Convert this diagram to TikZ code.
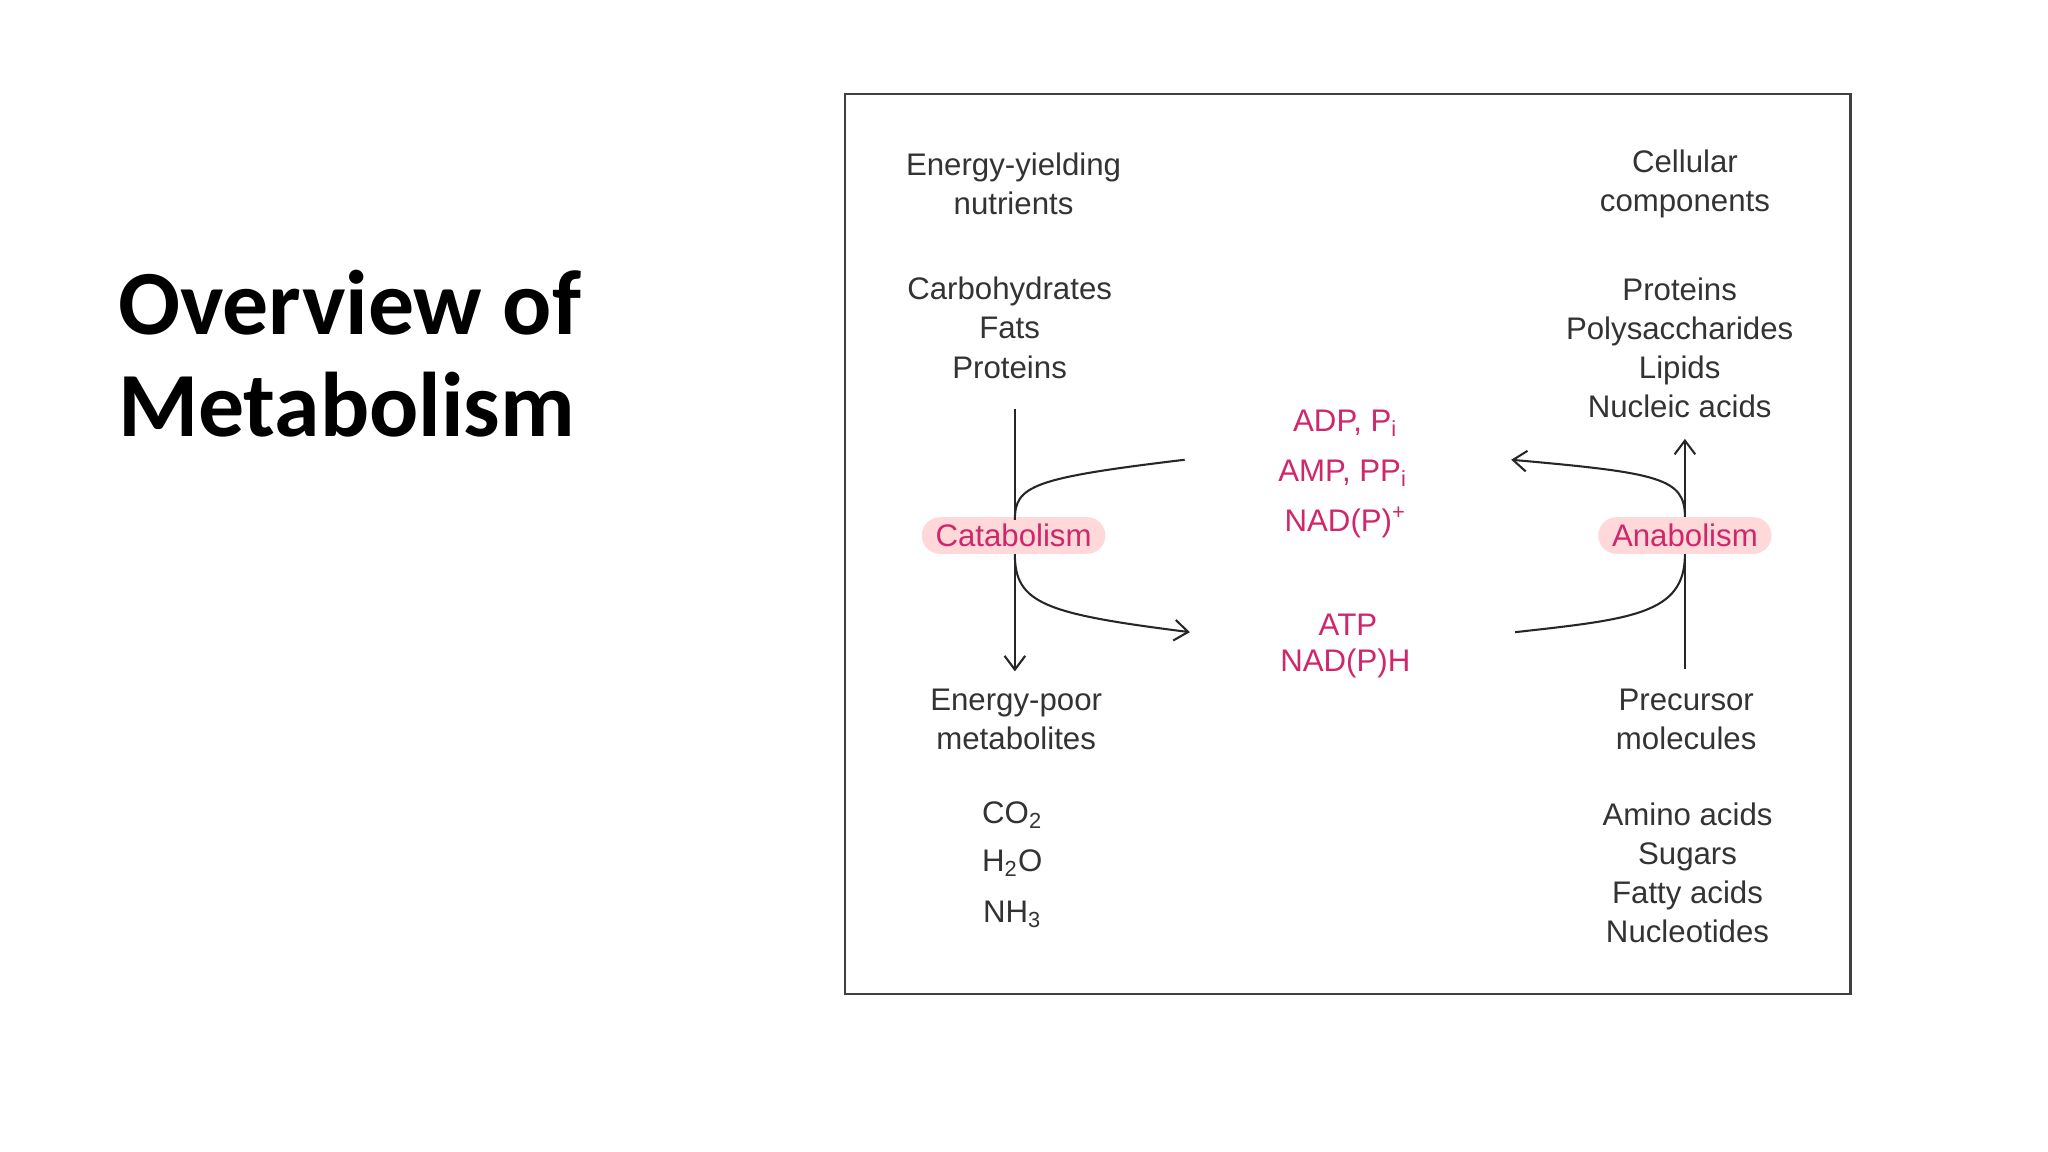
\documentclass[tikz,border=0pt]{standalone}
\usepackage{fontspec}
\setmainfont{Liberation Sans}
\newfontfamily\titlefont{Carlito}
\usetikzlibrary{arrows.meta}
\newcommand{\sbs}[1]{\textsubscript{#1}}
\newcommand{\sps}[1]{\textsuperscript{#1}}
\begin{document}
\begin{tikzpicture}[x=0.02cm,y=-0.02cm,
  lbl/.style={font=\fontsize{13.6}{17}\selectfont,text=black!80,align=center,inner sep=0pt},
  mag/.style={font=\fontsize{13.6}{17}\selectfont,text=magenta!70!red!85!black,align=center,inner sep=0pt},
  hl/.style={mag,fill=pink!60,rounded corners=8pt,inner xsep=6pt,inner ysep=3pt},
  conn/.style={draw=black!85,line width=0.9pt},
  arr/.style={conn,-{Straight Barb[length=6pt,width=9pt]}}]
\useasboundingbox (0,0) rectangle (1568,882);
\fill[white] (0,0) rectangle (1568,882);
\node[anchor=west,inner sep=0pt,font=\titlefont\bfseries\fontsize{40}{44}\selectfont] (t1) at (90,232) {Overview of};
\node[anchor=west,inner sep=0pt,font=\titlefont\bfseries\fontsize{40}{44}\selectfont] (t2) at (90,310) {Metabolism};
\draw[black!75,line width=1.2pt] (647,72) rectangle (1417,761);
% left
\node[lbl] (eyn) at (776,141) {Energy-yielding\\nutrients};
\node[lbl] (nut) at (773,251) {Carbohydrates\\Fats\\Proteins};
\node[hl] (cat) at (776,410) {Catabolism};
\node[lbl] (epm) at (778,551) {Energy-poor\\metabolites};
\node[lbl] (co) at (775,624) {CO\sbs{2}};
\node[lbl] (ho) at (775,661) {H\sbs{2}O};
\node[lbl] (nh) at (775,700) {NH\sbs{3}};
% center
\node[mag] (adp) at (1030,324) {ADP, P\sbs{i}};
\node[mag] (amp) at (1028,362) {AMP, PP\sbs{i}};
\node[mag] (nad) at (1030,400) {NAD(P)\sps{+}};
\node[mag] (atp) at (1032,478) {ATP};
\node[mag] (nadh) at (1030,508) {NAD(P)H};
% right
\node[lbl] (cc) at (1290,141) {Cellular\\components};
\node[lbl] (comp) at (1286,266) {Proteins\\Polysaccharides\\Lipids\\Nucleic acids};
\node[hl] (ana) at (1290,410) {Anabolism};
\node[lbl] (pm) at (1291,551) {Precursor\\molecules};
\node[lbl] (pre) at (1292,668) {Amino acids\\Sugars\\Fatty acids\\Nucleotides};
% connectors
\coordinate (l1) at (777,313); \coordinate (l2) at (777,514);
\coordinate (lu) at (907,352); \coordinate (ld) at (911,484);
\draw[conn] (l1) -- (cat.north -| l1);
\draw[arr] (cat.south -| l1) -- (l2);
\draw[conn] (777,398) .. controls (777,372) and (790,366) .. (lu);
\draw[conn] (777,398) -- (cat.north -| l1);
\draw[arr] (cat.south -| l1) .. controls (777,462) and (800,470) .. (ld);
\coordinate (r1) at (1290,512); \coordinate (r2) at (1290,336);
\coordinate (ru) at (1157,352); \coordinate (rd) at (1160,484);
\draw[conn] (r1) -- (ana.south -| r1);
\draw[arr] (ana.north -| r1) -- (r2);
\draw[arr] (ana.north -| r1) .. controls (1290,366) and (1270,362) .. (ru);
\draw[conn] (rd) .. controls (1250,474) and (1290,470) .. (ana.south -| r1);
\end{tikzpicture}
\end{document}
